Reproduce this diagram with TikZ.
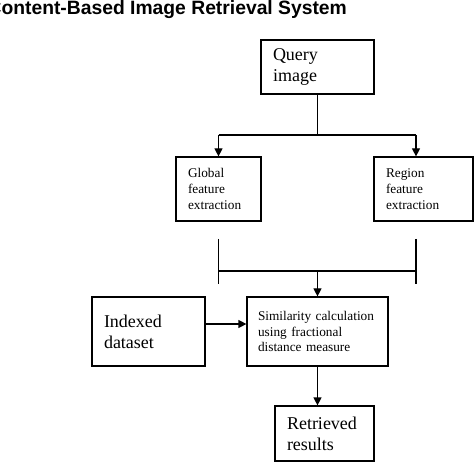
\documentclass[tikz,border=0pt]{standalone}
\usepackage{fontspec}
\setmainfont{Liberation Serif}
\setsansfont{Liberation Sans}
\usetikzlibrary{arrows.meta}

\begin{document}
\begin{tikzpicture}[x=1pt, y=-1pt, line width=1.2pt,
    box/.style={draw, rectangle, align=left, inner sep=0pt, font=\fontsize{18}{21}\selectfont},
    smallbox/.style={box, font=\fontsize{13.3}{15.7}\selectfont},
    arr/.style={-{Triangle[length=8pt,width=8pt]}}]
    \useasboundingbox (0,0) rectangle (474,462);

    \node[anchor=base west, inner sep=0pt, font=\sffamily\bfseries\fontsize{19.3}{23}\selectfont] (title) at (-13,15) {Content-Based Image Retrieval System};

    \node[box, minimum width=113pt, minimum height=54pt, text width=89pt] (query) at (317.5,67) {Query\\image};
    \node[smallbox, minimum width=85pt, minimum height=64pt, text width=61pt] (global) at (218.5,189) {Global\\feature\\extraction};
    \node[smallbox, minimum width=99pt, minimum height=64pt, text width=75pt] (region) at (423.5,189) {Region\\feature\\extraction};
    \node[box, minimum width=113pt, minimum height=69pt, text width=89pt] (indexed) at (148.5,331.5) {Indexed\\dataset};
    \node[smallbox, minimum width=141pt, minimum height=69pt, text width=119pt] (sim) at (317.5,331.5) {Similarity calculation\\using fractional\\distance measure};
    \node[box, minimum width=99pt, minimum height=55pt, text width=75pt] (results) at (324.5,433.5) {Retrieved\\results};

    \coordinate (split) at (317.5,135);
    \coordinate (gl) at (218.5,135);
    \coordinate (rg) at (416,135);
    \coordinate (g1) at (218.5,239);
    \coordinate (g2) at (218.5,284);
    \coordinate (r1) at (416,239);
    \coordinate (r2) at (416,284);
    \coordinate (merge) at (317.5,271);

    \draw (query) -- (split);
    \draw (gl) -- (rg);
    \draw[arr] (gl) -- (global);
    \draw[arr] (rg) -- (rg |- region.north);
    \draw (g1) -- (g2);
    \draw (r1) -- (r2);
    \draw (g1 |- merge) -- (r1 |- merge);
    \draw[arr] (merge) -- (sim);
    \draw[arr] ([yshift=7.5pt]indexed.east) -- ([yshift=7.5pt]sim.west);
    \draw[arr] (sim.south) -- (sim.south |- results.north);
\end{tikzpicture}
\end{document}
